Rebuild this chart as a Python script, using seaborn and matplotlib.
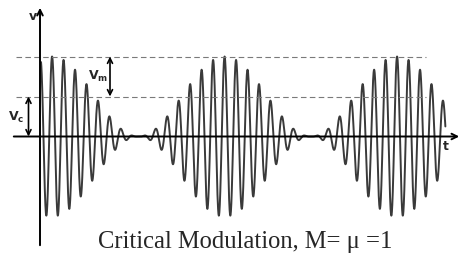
import numpy as np
import pandas as pd
import matplotlib
matplotlib.use("Agg")
import matplotlib.pyplot as plt
import seaborn as sns

# ---- chart values ----
VC = 1.0                 # carrier amplitude
VM = 1.0                 # modulating amplitude (M = Vm/Vc = 1)
CARRIER_PER_MOD = 15     # carrier cycles per modulating cycle
ENVELOPE_PEAK = 0.07     # first envelope maximum (in modulating periods)
T_START, T_END = 0.006, 2.35
N_SAMPLES = 4000
TITLE = "Critical Modulation, M= \u03bc =1"
LABEL_V = "v"
LABEL_T = "t"
LABEL_VM = r"$\mathbf{V_m}$"
LABEL_VC = r"$\mathbf{V_c}$"

t = np.linspace(T_START, T_END, N_SAMPLES)
phase = 2 * np.pi * (t - ENVELOPE_PEAK)
v = (VC + VM * np.cos(phase)) * np.cos(CARRIER_PER_MOD * phase)
df = pd.DataFrame({"t": t, "v": v})

sns.set_style("white")
fig = plt.figure(figsize=(4.71, 2.65), dpi=100)
ax = fig.add_axes([0, 0, 1, 1])

# pixel layout of the figure
PX_PER_T = 172.5
PX_PER_V = 40.0
X0, Y0 = 40, 136.5
ax.set_xlim(-X0 / PX_PER_T, (471 - X0) / PX_PER_T)
ax.set_ylim(-(265 - Y0) / PX_PER_V, Y0 / PX_PER_V)

sns.lineplot(data=df, x="t", y="v", ax=ax, color="#3a3a3a", lw=1.4,
             sort=False, estimator=None)

def px_x(p):
    return (p - X0) / PX_PER_T
def px_y(p):
    return (Y0 - p) / PX_PER_V

# dashed reference levels
for lvl in (VC, VC + VM):
    ax.plot([px_x(16), px_x(426)], [lvl, lvl], color="#7a7a7a", lw=0.8,
            ls=(0, (5, 3)))

# axes with arrows
arrow = dict(arrowstyle="->", color="black", lw=1.4, mutation_scale=10)
ax.annotate("", xy=(px_x(462), 0), xytext=(px_x(11), 0), arrowprops=arrow)
ax.annotate("", xy=(0, px_y(5)), xytext=(0, px_y(248)), arrowprops=arrow)

# Vc and Vm double arrows
darrow = dict(arrowstyle="<->", color="black", lw=1.2, mutation_scale=9,
              shrinkA=0, shrinkB=0)
ax.annotate("", xy=(px_x(28.5), 0), xytext=(px_x(28.5), VC), arrowprops=darrow)
ax.annotate("", xy=(px_x(110), VC), xytext=(px_x(110), VC + VM), arrowprops=darrow)

ax.text(px_x(33), px_y(16), LABEL_V, fontsize=9, fontweight="bold",
        ha="center", va="center")
ax.text(px_x(446), px_y(146), LABEL_T, fontsize=9, fontweight="bold",
        ha="center", va="center")
ax.text(px_x(98), px_y(76), LABEL_VM, fontsize=9, ha="center", va="center")
ax.text(px_x(16), px_y(117), LABEL_VC, fontsize=9, ha="center", va="center")

ax.text(px_x(245), px_y(242), TITLE, fontsize=17.7, family="Liberation Serif",
        ha="center", va="center")

ax.set_axis_off()
fig.savefig("out.png", dpi=100)
